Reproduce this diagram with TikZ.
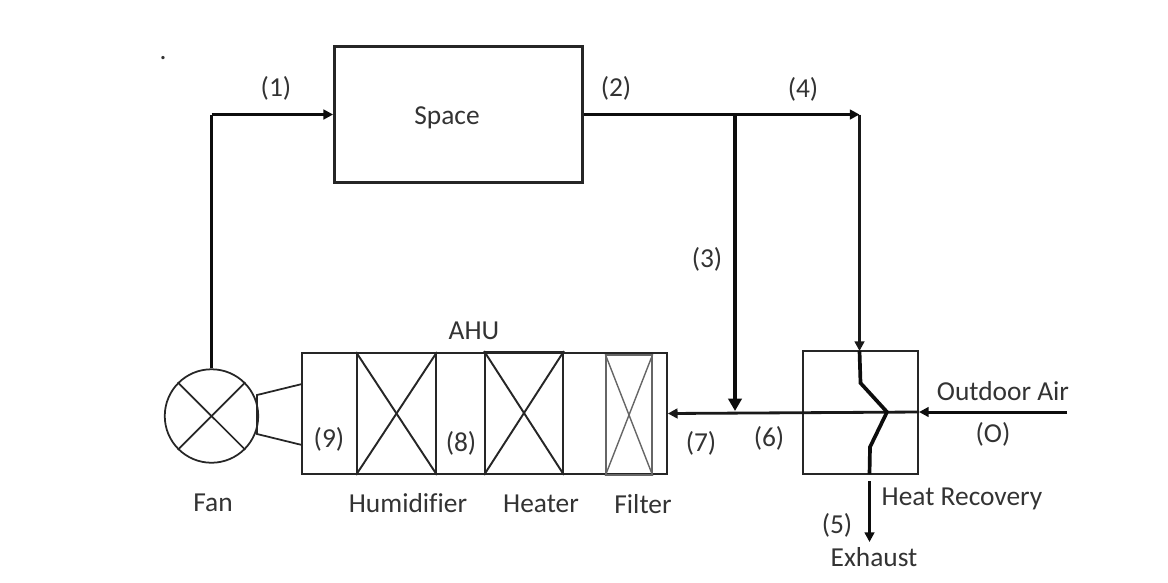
\documentclass[tikz,border=0pt]{standalone}
\usepackage{fontspec}
\setmainfont[Ligatures=NoCommon]{Carlito}
\usetikzlibrary{arrows.meta}

\begin{document}
\begin{tikzpicture}[x=0.02cm,y=-0.02cm,>={Triangle[length=5.5pt,width=5.5pt]}]
        \tikzstyle{label}=[font=\fontsize{15.6pt}{18pt}\selectfont,text=black!80,inner sep=0pt]
        \tikzstyle{box}=[draw=black!85,line width=1pt,inner sep=0pt]
        \tikzstyle{thick box}=[box,line width=1.6pt]
        \tikzstyle{cross box}=[box,line width=1.1pt]
        \tikzstyle{light box}=[box,draw=black!60,line width=0.8pt]
        \tikzstyle{duct}=[draw=black!95,line width=1.7pt]
        \tikzstyle{heavy duct}=[draw=black!95,line width=2.1pt,>={Triangle[length=7pt,width=7.5pt]}]
        \tikzstyle{thin duct}=[draw=black!90,line width=1.6pt]
        \useasboundingbox (0,0) rectangle (1168,582);

        % Draw the space and the air handling unit
        \node[thick box,minimum width=4.96cm,minimum height=2.72cm] (Space) at (458.5,114.5) {};
        \node[box,minimum width=7.3cm,minimum height=2.42cm] (AHU) at (484.5,413.5) {};

        % Draw the coils in the unit
        \foreach \name / \x / \y / \w / \h / \kind in {Hum/396.5/413.5/1.58cm/2.42cm/cross box,
                Heat/524/413/1.56cm/2.44cm/cross box,
                Filt/629/415/0.92cm/2.4cm/light box}
        {
                \node[\kind,minimum width=\w,minimum height=\h] (\name) at (\x,\y) {};
                \draw[\kind] (\name.north west) -- (\name.south east);
                \draw[\kind] (\name.south west) -- (\name.north east);
        }

        % Draw the fan and its outlet
        \node[box,circle,minimum size=1.87cm] (Fan) at (211.5,416) {};
        \draw[box] (Fan.45) -- (Fan.225);
        \draw[box] (Fan.135) -- (Fan.315);
        \coordinate (FanA) at (257,395);
        \coordinate (FanB) at (257,434);
        \coordinate (AhuA) at (302,384);
        \coordinate (AhuB) at (302,445);
        \draw[box] (AhuA) -- (FanA) -- (FanB) -- (AhuB);

        % Draw the heat recovery box
        \node[box,minimum width=2.3cm,minimum height=2.46cm] (HR) at (860.5,412.5) {};

        % Turning points of the ducts
        \coordinate (C1) at (211.5,114.5);
        \coordinate (C2) at (735,114.5);
        \coordinate (C3) at (859.5,114.5);
        \coordinate (C4) at (735,411);
        \coordinate (R1) at (859.5,351);
        \coordinate (R2) at (860.5,383);
        \coordinate (R3) at (887,412);
        \coordinate (R4) at (870,447);
        \coordinate (R5) at (869.5,474);
        \coordinate (E1) at (869.5,481);
        \coordinate (E2) at (869.5,542);
        \coordinate (O1) at (1067,412);
        \coordinate (O2) at (919,412);

        % Connect the ducts
        \draw[heavy duct] (Fan.north) -- (C1);
        \draw[duct,->] (C1) -- (Space.west);
        \draw[duct,->] (Space.east) -- (C3);
        \draw[thin duct,->] (C3) -- (R1);
        \draw[heavy duct,->] (C2) -- (C4);
        \draw[duct,->] (O1) -- (O2);
        \draw[thin duct,->] (O2) -- (AHU.east);
        \draw[heavy duct] (R1) -- (R2) -- (R3) -- (R4) -- (R5);
        \draw[duct,->] (E1) -- (E2);

        % Annotate the diagram
        \node[label] (dot) at (163,58) {.};
        \node[label] (n1) at (276,88) {(1)};
        \node[label] (n2) at (616,88) {(2)};
        \node[label] (n3) at (707,259) {(3)};
        \node[label] (n4) at (803,89) {(4)};
        \node[label] (n5) at (837,525) {(5)};
        \node[label] (n6) at (769,438) {(6)};
        \node[label] (n7) at (701,443) {(7)};
        \node[label] (n8) at (461,443) {(8)};
        \node[label] (n9) at (329,439) {(9)};
        \node[label] (nO) at (993,434) {(O)};
        \node[label] (tSpace) at (447,118) {Space};
        \node[label] (tAHU) at (474,331) {AHU};
        \node[label] (tFan) at (213,503) {Fan};
        \node[label] (tHum) at (408,503) {Humidifier};
        \node[label] (tHeat) at (541,504) {Heater};
        \node[label] (tFilt) at (643,504) {Filter};
        \node[label] (tOut) at (1003,391) {Outdoor Air};
        \node[label] (tHR) at (962,499) {Heat Recovery};
        \node[label] (tExh) at (874,557) {Exhaust};
\end{tikzpicture}
\end{document}
